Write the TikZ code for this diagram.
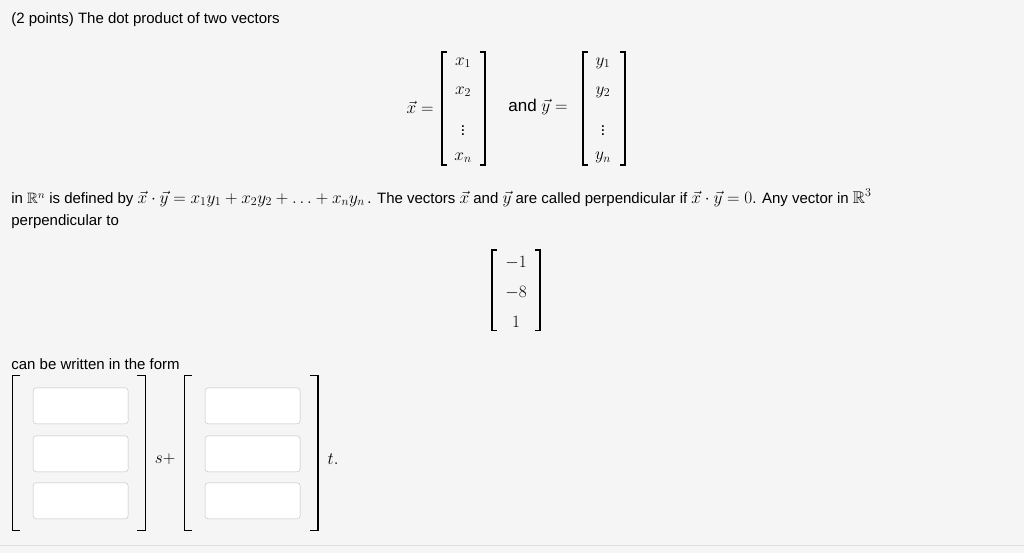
\documentclass[tikz,border=0pt]{standalone}
\usepackage{amsmath,amssymb}
\usepackage{fontspec}
\setmainfont{Liberation Sans}
\begin{document}
\begin{tikzpicture}[x=1pt,y=-1pt,
  txt/.style={anchor=west,inner sep=0pt,font=\fontsize{15}{17}\selectfont},
  mth/.style={inner sep=0pt,font=\fontsize{17}{19}\selectfont},
  ansbox/.style={draw=black!25,fill=white,rounded corners=3pt,minimum width=95pt,minimum height=36pt,inner sep=0pt},
  brk/.style={line width=1.2pt}]
\fill[black!4] (0,0) rectangle (1024,553);
\draw[black!12] (0,545) -- (1024,545);
\useasboundingbox (0,0) rectangle (1024,553);
\node[txt] (t1) at (11,20) {(2 points) The dot product of two vectors};
% vector x
\node[mth] (xe) at (420,107) {$\vec{x}=$};
\draw[brk] (447,52) -- (442,52) -- (442,165) -- (447,165);
\draw[brk] (480,52) -- (485,52) -- (485,165) -- (480,165);
\node[mth] (x1) at (463,63) {$x_1$};
\node[mth] (x2) at (463,92) {$x_2$};
\node[mth] (xd) at (463,128) {$\vdots$};
\node[mth] (xn) at (463,158) {$x_n$};
\node[mth] (ye) at (538,107) {and $\vec{y}=$};
\draw[brk] (588,52) -- (583,52) -- (583,165) -- (588,165);
\draw[brk] (620,52) -- (625,52) -- (625,165) -- (620,165);
\node[mth] (y1) at (603,63) {$y_1$};
\node[mth] (y2) at (603,92) {$y_2$};
\node[mth] (yd) at (603,128) {$\vdots$};
\node[mth] (yn) at (603,158) {$y_n$};
\node[txt] (t2) at (11,198) {in $\mathbb{R}^n$ is defined by {\fontsize{17}{19}\selectfont$\vec{x}\cdot\vec{y}=x_1y_1+x_2y_2+\ldots+x_ny_n$}\,. The vectors {\fontsize{17}{19}\selectfont$\vec{x}$} and {\fontsize{17}{19}\selectfont$\vec{y}$} are called perpendicular if {\fontsize{17}{19}\selectfont$\vec{x}\cdot\vec{y}=0$}. Any vector in {\fontsize{17}{19}\selectfont$\mathbb{R}^3$}};
\node[txt] (t3) at (11,222) {perpendicular to};
\draw[brk] (497,250) -- (492,250) -- (492,331) -- (497,331);
\draw[brk] (535,250) -- (540,250) -- (540,331) -- (535,331);
\node[mth] (v1) at (516,263) {$-1$};
\node[mth] (v2) at (516,293) {$-8$};
\node[mth] (v3) at (516,322) {$1$};
\node[txt] (t4) at (11,364) {can be written in the form};
\draw[brk] (20,376) -- (12,376) -- (12,531) -- (20,531);
\draw[brk] (137,376) -- (145,376) -- (145,531) -- (137,531);
\node[ansbox] (a1) at (80.5,406) {};
\node[ansbox] (a2) at (80.5,454) {};
\node[ansbox] (a3) at (80.5,501) {};
\node[mth] (sp) at (165,459) {$s+$};
\draw[brk] (192,376) -- (184,376) -- (184,531) -- (192,531);
\draw[brk] (310,376) -- (318,376) -- (318,531) -- (310,531);
\node[ansbox] (b1) at (252.5,406) {};
\node[ansbox] (b2) at (252.5,454) {};
\node[ansbox] (b3) at (252.5,501) {};
\node[mth] (tt) at (333,459) {$t.$};
\end{tikzpicture}
\end{document}
